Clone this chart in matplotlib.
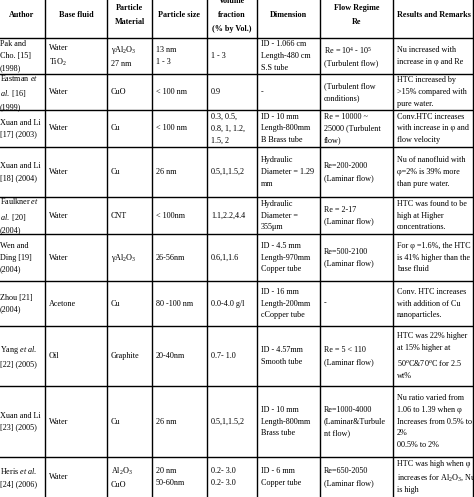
import matplotlib
matplotlib.use("Agg")
import matplotlib.pyplot as plt

plt.rcParams['font.family'] = ['Liberation Serif', 'DejaVu Serif']
plt.rcParams['mathtext.fontset'] = 'custom'
plt.rcParams['mathtext.rm'] = 'Liberation Serif'
plt.rcParams['mathtext.it'] = 'Liberation Serif:italic'
plt.rcParams['mathtext.bf'] = 'Liberation Serif:bold'

headers = ["Author", "Base fluid", "Particle\nMaterial", "Particle size",
           "Volume\nfraction\n(% by Vol.)", "Dimension", "Flow Regime\nRe", "Results and Remarks"]

authors = ["Pak and\nCho. [15]\n(1998)", "Eastman $\\it{et}$\n$\\it{al.}$ [16]\n(1999)",
           "Xuan and Li\n[17] (2003)", "Xuan and Li\n[18] (2004)",
           "Faulkner $\\it{et}$\n$\\it{al.}$ [20]\n(2004)", "Wen and\nDing [19]\n(2004)",
           "Zhou [21]\n(2004)", "Yang $\\it{et\\ al.}$\n[22] (2005)",
           "Xuan and Li\n[23] (2005)", "Heris $\\it{et\\ al.}$\n[24] (2006)"]
base_fluids = ["Water\nTiO$_2$", "Water", "Water", "Water", "Water", "Water",
               "Acetone", "Oil", "Water", "Water"]
materials = ["γAl$_2$O$_3$\n27 nm", "CuO", "Cu", "Cu", "CNT", "γAl$_2$O$_3$",
             "Cu", "Graphite", "Cu", "Al$_2$O$_3$\nCuO"]
sizes = ["13 nm\n1 - 3", "< 100 nm", "< 100 nm", "26 nm", "< 100nm", "26-56nm",
         "80 -100 nm", "20-40nm", "26 nm", "20 nm\n50-60nm"]
fractions = ["1 - 3", "0.9", "0.3, 0.5,\n0.8, 1, 1.2,\n1.5, 2", "0.5,1,1.5,2",
             "1.1,2.2,4.4", "0.6,1,1.6", "0.0-4.0 g/l", "0.7- 1.0",
             "0.5,1,1.5,2", "0.2- 3.0\n0.2- 3.0"]
dimensions = ["ID - 1.066 cm\nLength-480 cm\nS.S tube", "-",
              "ID - 10 mm\nLength-800mm\nB Brass tube",
              "Hydraulic\nDiameter = 1.29\nmm", "Hydraulic\nDiameter =\n355μm",
              "ID - 4.5 mm\nLength-970mm\nCopper tube",
              "ID - 16 mm\nLength-200mm\ncCopper tube", "ID - 4.57mm\nSmooth tube",
              "ID - 10 mm\nLength-800mm\nBrass tube", "ID - 6 mm\nCopper tube"]
regimes = ["Re = 10$^4$ - 10$^5$\n(Turbulent flow)", "(Turbulent flow\nconditions)",
           "Re = 10000 ~\n25000 (Turbulent\nflow)", "Re=200-2000\n(Laminar flow)",
           "Re = 2-17\n(Laminar flow)", "Re=500-2100\n(Laminar flow)", "-",
           "Re = 5 < 110\n(Laminar flow)", "Re=1000-4000\n(Laminar&Turbule\nnt flow)",
           "Re=650-2050\n(Laminar flow)"]
results = ["Nu increased with\nincrease in φ and Re",
           "HTC increased by\n>15% compared with\npure water.",
           "Conv.HTC increases\nwith increase in φ and\nflow velocity",
           "Nu of nanofluid with\nφ=2% is 39% more\nthan pure water.",
           "HTC was found to be\nhigh at Higher\nconcentrations.",
           "For φ =1.6%, the HTC\nis 41% higher than the\nbase fluid",
           "Conv. HTC increases\nwith addition of Cu\nnanoparticles.",
           "HTC was 22% higher\nat 15% higher at\n50$^o$C&70$^o$C for 2.5\nwt%",
           "Nu ratio varied from\n1.06 to 1.39 when φ\nIncreases from 0.5% to\n2%\n00.5% to 2%",
           "HTC was high when φ\nincreases for Al$_2$O$_3$, Nu\nis high"]

columns = [authors, base_fluids, materials, sizes, fractions, dimensions, regimes, results]

# layout in pixels
W, H = 474, 497
xs = [-2, 45, 107, 152, 207, 257, 320, 393, 474]
ys = [-6, 38, 74, 110, 147, 197, 234, 281, 326, 386, 457, 500]

fig = plt.figure(figsize=(W / 100, H / 100), dpi=100)
ax = fig.add_axes([0, 0, 1, 1])
ax.set_xlim(0, W)
ax.set_ylim(H, 0)
ax.axis('off')

lw = 1.0
for x in xs[1:-1]:
    ax.plot([x, x], [ys[0], ys[-1]], color='black', lw=lw)
ax.plot([W - 0.5, W - 0.5], [ys[0], ys[-1]], color='black', lw=lw)
for y in ys[1:-1]:
    ax.plot([0, W], [y, y], color='black', lw=lw)

fs = 5.9
for c, h in enumerate(headers):
    cx = (xs[c] + xs[c + 1]) / 2
    cy = (-8 + ys[1]) / 2
    ax.text(cx, cy, h, ha='center', va='center', fontsize=fs, fontweight='bold',
            linespacing=2.0)

for c, col in enumerate(columns):
    x0 = xs[c] + (2 if c == 0 else 4)
    for r, txt in enumerate(col):
        cy = (ys[r + 1] + ys[r + 2]) / 2
        if r == len(col) - 1:
            cy = (ys[r + 1] + 497) / 2
        ax.text(x0, cy, txt, ha='left', va='center', fontsize=fs, linespacing=1.65)

fig.savefig("out.png", dpi=100)
